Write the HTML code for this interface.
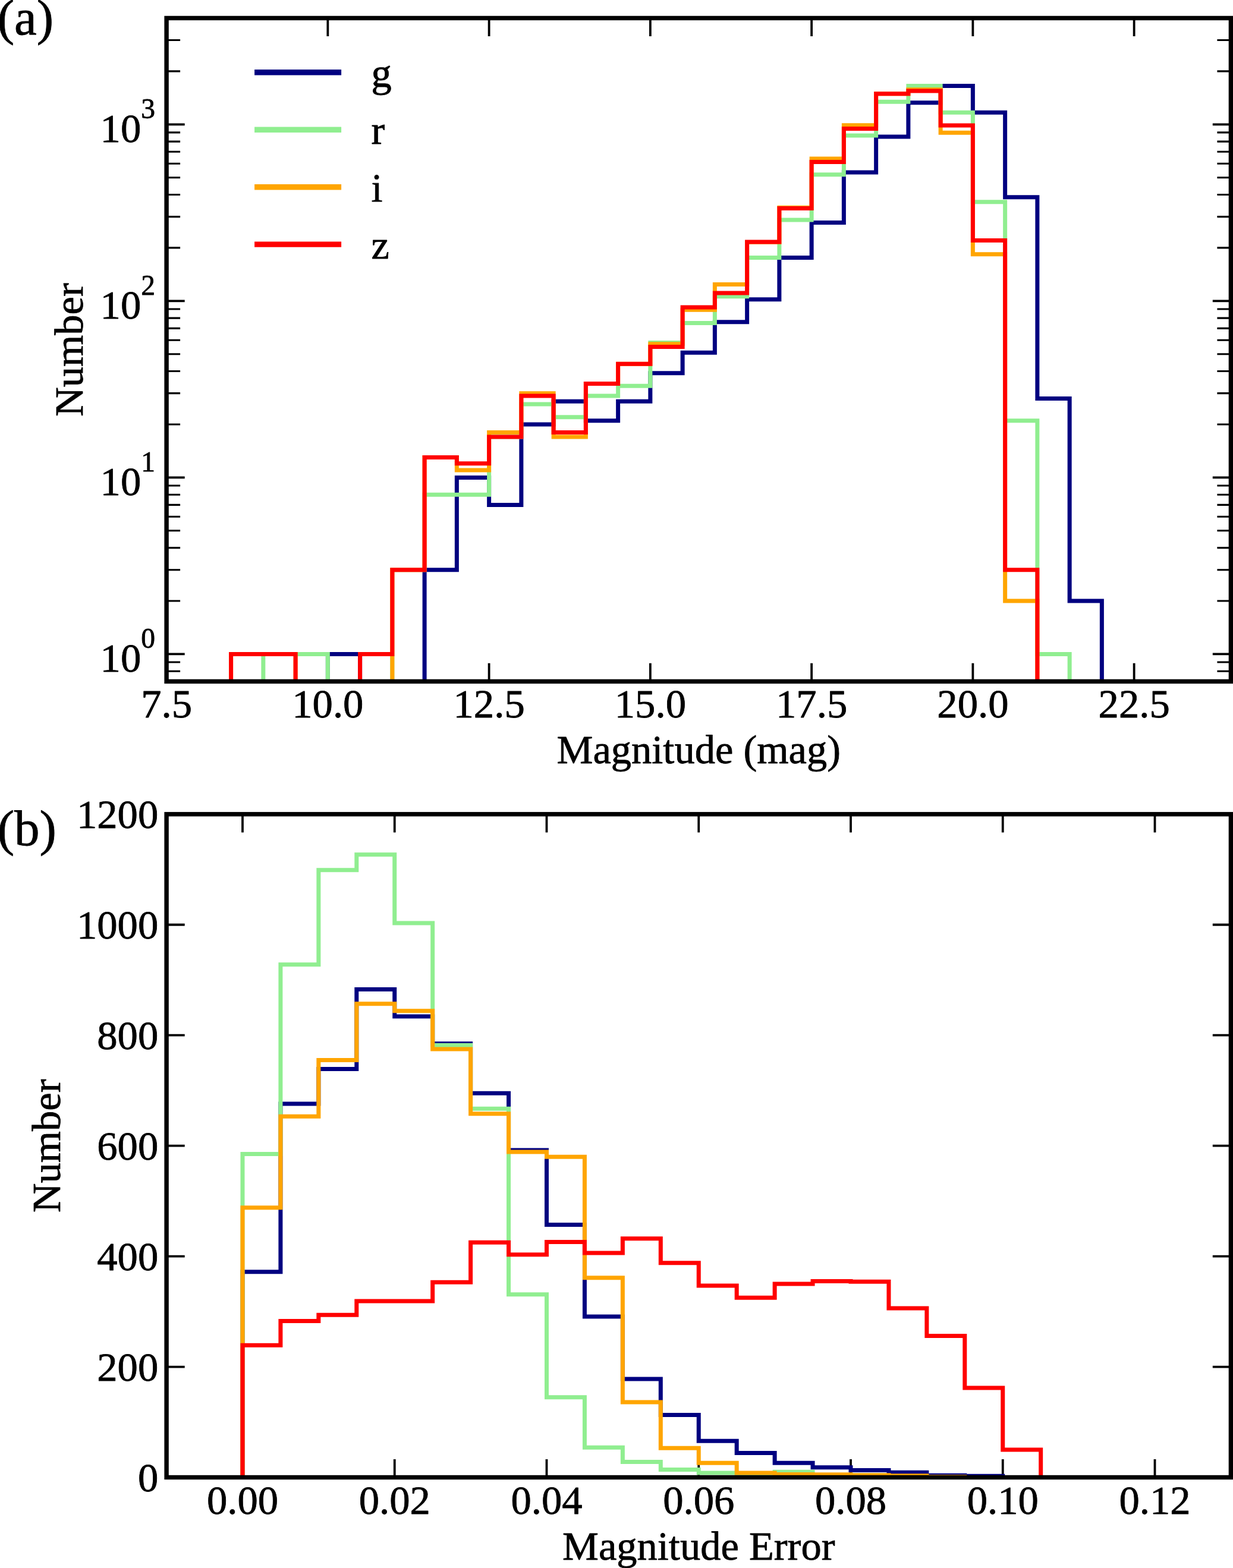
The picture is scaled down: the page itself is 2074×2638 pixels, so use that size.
<!DOCTYPE html>
<html lang="en"><head><meta charset="utf-8"><title>Magnitude and magnitude error histograms</title>
<style>html,body{margin:0;padding:0;background:#fff}svg{display:block}text{font-family:"Liberation Serif", serif;fill:#000;stroke:#000;stroke-width:0.8px;stroke-linejoin:round}</style></head><body>
<svg width="2074" height="2638" viewBox="0 0 2074 2638">
<rect width="2074" height="2638" fill="#fff"/>
<defs><clipPath id="ct"><rect x="280.1" y="30.45" width="1790.3" height="1116"/></clipPath><clipPath id="cb"><rect x="280.1" y="1369.8" width="1790.3" height="1115.7"/></clipPath></defs>
<g id="panel-a">
<path d="M280.1 1146.45V1115.85M280.1 30.45V61.05M551.36 1146.45V1115.85M551.36 30.45V61.05M822.62 1146.45V1115.85M822.62 30.45V61.05M1093.87 1146.45V1115.85M1093.87 30.45V61.05M1365.13 1146.45V1115.85M1365.13 30.45V61.05M1636.39 1146.45V1115.85M1636.39 30.45V61.05M1907.65 1146.45V1115.85M1907.65 30.45V61.05M280.1 1100.44H310.7M2070.4 1100.44H2039.8M280.1 803.39H310.7M2070.4 803.39H2039.8M280.1 506.34H310.7M2070.4 506.34H2039.8M280.1 209.29H310.7M2070.4 209.29H2039.8" stroke="#000" stroke-width="3.8" fill="none"/>
<path d="M280.1 1146.45H303.1M2070.4 1146.45H2047.4M280.1 1129.22H303.1M2070.4 1129.22H2047.4M280.1 1114.03H303.1M2070.4 1114.03H2047.4M280.1 1011.02H303.1M2070.4 1011.02H2047.4M280.1 958.71H303.1M2070.4 958.71H2047.4M280.1 921.6H303.1M2070.4 921.6H2047.4M280.1 892.81H303.1M2070.4 892.81H2047.4M280.1 869.29H303.1M2070.4 869.29H2047.4M280.1 849.4H303.1M2070.4 849.4H2047.4M280.1 832.18H303.1M2070.4 832.18H2047.4M280.1 816.98H303.1M2070.4 816.98H2047.4M280.1 713.97H303.1M2070.4 713.97H2047.4M280.1 661.66H303.1M2070.4 661.66H2047.4M280.1 624.55H303.1M2070.4 624.55H2047.4M280.1 595.76H303.1M2070.4 595.76H2047.4M280.1 572.24H303.1M2070.4 572.24H2047.4M280.1 552.35H303.1M2070.4 552.35H2047.4M280.1 535.13H303.1M2070.4 535.13H2047.4M280.1 519.93H303.1M2070.4 519.93H2047.4M280.1 416.92H303.1M2070.4 416.92H2047.4M280.1 364.61H303.1M2070.4 364.61H2047.4M280.1 327.5H303.1M2070.4 327.5H2047.4M280.1 298.71H303.1M2070.4 298.71H2047.4M280.1 275.19H303.1M2070.4 275.19H2047.4M280.1 255.3H303.1M2070.4 255.3H2047.4M280.1 238.08H303.1M2070.4 238.08H2047.4M280.1 222.88H303.1M2070.4 222.88H2047.4M280.1 119.87H303.1M2070.4 119.87H2047.4M280.1 67.56H303.1M2070.4 67.56H2047.4" stroke="#000" stroke-width="3.1" fill="none"/>
<path d="M388.6 1186.45H442.85H497.11H551.36V1100.44H605.61V1186.45H659.86H714.11V958.71H768.36V803.39H822.62V849.4H876.87V713.97H931.12V675.25H985.37V707.67H1039.62V675.25H1093.87V627.81H1148.12V593.21H1202.38V541.74H1256.63V503.78H1310.88V433.41H1365.13V374.44H1419.38V289.98H1473.63V230.11H1527.88V172.79H1582.14V144.61H1636.39V189.26H1690.64V331.76H1744.89V670.56H1799.14V1011.02H1853.39V1186.45" stroke="#000080" stroke-width="7" fill="none" stroke-linejoin="miter" stroke-miterlimit="10" clip-path="url(#ct)"/>
<path d="M388.6 1186.45H442.85V1100.44H497.11H551.36V1186.45H605.61H659.86V958.71H714.11V832.18H768.36H822.62V734.93H876.87V680.12H931.12V701.67H985.37V666.03H1039.62V649.36H1093.87V576.61H1148.12V543.45H1202.38V498.82H1256.63V433.41H1310.88V369.88H1365.13V293.65H1419.38V228H1473.63V171.34H1527.88V144.61H1582.14V189.26H1636.39V339.67H1690.64V707.67H1744.89V1100.44H1799.14V1186.45H1853.39" stroke="#90ee90" stroke-width="7" fill="none" stroke-linejoin="miter" stroke-miterlimit="10" clip-path="url(#ct)"/>
<path d="M388.6 1186.45V1100.44H442.85H497.11V1186.45H551.36H605.61H659.86V958.71H714.11V769.54H768.36V791.09H822.62V727.56H876.87V661.66H931.12V734.93H985.37V645.51H1039.62V612.25H1093.87V578.86H1148.12V521.37H1202.38V478.59H1256.63V407.59H1310.88V349.23H1365.13V267.07H1419.38V210.72H1473.63V157.67H1527.88V150.69H1582.14V223.31H1636.39V427.68H1690.64V1011.02H1744.89V1186.45H1799.14H1853.39" stroke="#ffa500" stroke-width="7" fill="none" stroke-linejoin="miter" stroke-miterlimit="10" clip-path="url(#ct)"/>
<path d="M388.6 1186.45V1100.44H442.85H497.11V1186.45H551.36H605.61V1100.44H659.86V958.71H714.11V769.54H768.36V779.87H822.62V734.93H876.87V666.03H931.12V727.56H985.37V645.51H1039.62V612.25H1093.87V583.46H1148.12V517.1H1202.38V492.88H1256.63V406.99H1310.88V350.38H1365.13V272.43H1419.38V216.59H1473.63V157.67H1527.88V153.09H1582.14V211.11H1636.39V404.62H1690.64V958.71H1744.89V1186.45H1799.14H1853.39" stroke="#ff0000" stroke-width="7" fill="none" stroke-linejoin="miter" stroke-miterlimit="10" clip-path="url(#ct)"/>
<rect x="280.1" y="30.45" width="1790.3" height="1116" fill="none" stroke="#000" stroke-width="7.4"/>
<text x="280.1" y="1207.4" font-size="68.7" text-anchor="middle">7.5</text>
<text x="551.36" y="1207.4" font-size="68.7" text-anchor="middle">10.0</text>
<text x="822.62" y="1207.4" font-size="68.7" text-anchor="middle">12.5</text>
<text x="1093.87" y="1207.4" font-size="68.7" text-anchor="middle">15.0</text>
<text x="1365.13" y="1207.4" font-size="68.7" text-anchor="middle">17.5</text>
<text x="1636.39" y="1207.4" font-size="68.7" text-anchor="middle">20.0</text>
<text x="1907.65" y="1207.4" font-size="68.7" text-anchor="middle">22.5</text>
<text x="168.6" y="1130.44" font-size="68.7">10<tspan x="237.2" font-size="47.5" dy="-40.3">0</tspan></text>
<text x="168.6" y="833.39" font-size="68.7">10<tspan x="237.2" font-size="47.5" dy="-40.3">1</tspan></text>
<text x="168.6" y="536.34" font-size="68.7">10<tspan x="237.2" font-size="47.5" dy="-40.3">2</tspan></text>
<text x="168.6" y="239.29" font-size="68.7">10<tspan x="237.2" font-size="47.5" dy="-40.3">3</tspan></text>
<text transform="translate(139.2 588.5) rotate(-90)" font-size="68.5" text-anchor="middle">Number</text>
<text x="1175.25" y="1284.4" font-size="68.5" text-anchor="middle">Magnitude (mag)</text>
<text x="-4.3" y="58" font-size="85">(a)</text>
<path d="M428.1 121.8H574.1" stroke="#000080" stroke-width="9.4" fill="none"/>
<text x="624.5" y="146" font-size="68.5">g</text>
<path d="M428.1 218.2H574.1" stroke="#90ee90" stroke-width="9.4" fill="none"/>
<text x="624.5" y="242.4" font-size="68.5">r</text>
<path d="M428.1 314.7H574.1" stroke="#ffa500" stroke-width="9.4" fill="none"/>
<text x="624.5" y="338.9" font-size="68.5">i</text>
<path d="M428.1 411.1H574.1" stroke="#ff0000" stroke-width="9.4" fill="none"/>
<text x="624.5" y="435.3" font-size="68.5">z</text>
</g>
<g id="panel-b">
<path d="M407.98 2485.5V2454.9M407.98 1369.8V1400.4M663.74 2485.5V2454.9M663.74 1369.8V1400.4M919.49 2485.5V2454.9M919.49 1369.8V1400.4M1175.25 2485.5V2454.9M1175.25 1369.8V1400.4M1431.01 2485.5V2454.9M1431.01 1369.8V1400.4M1686.76 2485.5V2454.9M1686.76 1369.8V1400.4M1942.52 2485.5V2454.9M1942.52 1369.8V1400.4M280.1 2485.5H310.7M2070.4 2485.5H2039.8M280.1 2299.55H310.7M2070.4 2299.55H2039.8M280.1 2113.6H310.7M2070.4 2113.6H2039.8M280.1 1927.65H310.7M2070.4 1927.65H2039.8M280.1 1741.7H310.7M2070.4 1741.7H2039.8M280.1 1555.75H310.7M2070.4 1555.75H2039.8M280.1 1369.8H310.7M2070.4 1369.8H2039.8" stroke="#000" stroke-width="3.8" fill="none"/>
<path d="M407.98 2485.5V2139.63H471.92V1856.99H535.86V1798.41H599.8V1664.53H663.74V1710.09H727.68V1755.65H791.61V1839.32H855.55V1935.09H919.49V2060.6H983.43V2214.94H1047.37V2320H1111.31V2380.44H1175.25V2424.14H1239.19V2444.59H1303.13V2461.33H1367.07V2468.76H1431.01V2473.41H1494.95V2477.13H1558.89V2482.34H1622.82V2483.27H1686.76V2485.5H1750.7" stroke="#000080" stroke-width="7" fill="none" stroke-linejoin="miter" stroke-miterlimit="10" clip-path="url(#cb)"/>
<path d="M407.98 2485.5V1941.6H471.92V1622.69H535.86V1463.7H599.8V1437.67H663.74V1552.96H727.68V1758.44H791.61V1865.36H855.55V2177.75H919.49V2350.69H983.43V2435.29H1047.37V2459.47H1111.31V2472.48H1175.25V2478.06H1239.19V2478.99H1303.13V2476.2H1367.07V2481.78H1431.01V2483.64H1494.95V2484.57H1558.89V2485.5H1622.82H1686.76H1750.7" stroke="#90ee90" stroke-width="7" fill="none" stroke-linejoin="miter" stroke-miterlimit="10" clip-path="url(#cb)"/>
<path d="M407.98 2485.5V2031.78H471.92V1878.37H535.86V1783.54H599.8V1688.7H663.74V1700.79H727.68V1764.94H791.61V1873.72H855.55V1937.88H919.49V1946.24H983.43V2149.86H1047.37V2359.05H1111.31V2436.22H1175.25V2461.33H1239.19V2478.06H1303.13V2480.39H1367.07V2480.85H1431.01V2481.78H1494.95V2482.71H1558.89V2484.57H1622.82V2485.5H1686.76H1750.7" stroke="#ffa500" stroke-width="7" fill="none" stroke-linejoin="miter" stroke-miterlimit="10" clip-path="url(#cb)"/>
<path d="M407.98 2485.5V2263.29H471.92V2222.38H535.86V2212.15H599.8V2188.91H663.74H727.68V2157.3H791.61V2090.36H855.55V2110.81H919.49V2089.43H983.43V2108.02H1047.37V2083.85H1111.31V2124.76H1175.25V2162.88H1239.19V2183.33H1303.13V2160.09H1367.07V2155.44H1431.01V2156.37H1494.95V2201H1558.89V2247.48H1622.82V2334.88H1686.76V2439.01H1750.7V2485.5" stroke="#ff0000" stroke-width="7" fill="none" stroke-linejoin="miter" stroke-miterlimit="10" clip-path="url(#cb)"/>
<rect x="280.1" y="1369.8" width="1790.3" height="1115.7" fill="none" stroke="#000" stroke-width="7.4"/>
<text x="407.98" y="2546.6" font-size="68.7" text-anchor="middle">0.00</text>
<text x="663.74" y="2546.6" font-size="68.7" text-anchor="middle">0.02</text>
<text x="919.49" y="2546.6" font-size="68.7" text-anchor="middle">0.04</text>
<text x="1175.25" y="2546.6" font-size="68.7" text-anchor="middle">0.06</text>
<text x="1431.01" y="2546.6" font-size="68.7" text-anchor="middle">0.08</text>
<text x="1686.76" y="2546.6" font-size="68.7" text-anchor="middle">0.10</text>
<text x="1942.52" y="2546.6" font-size="68.7" text-anchor="middle">0.12</text>
<text x="266.3" y="2508.9" font-size="68.7" text-anchor="end">0</text>
<text x="266.3" y="2322.95" font-size="68.7" text-anchor="end">200</text>
<text x="266.3" y="2137" font-size="68.7" text-anchor="end">400</text>
<text x="266.3" y="1951.05" font-size="68.7" text-anchor="end">600</text>
<text x="266.3" y="1765.1" font-size="68.7" text-anchor="end">800</text>
<text x="266.3" y="1579.15" font-size="68.7" text-anchor="end">1000</text>
<text x="266.3" y="1393.2" font-size="68.7" text-anchor="end">1200</text>
<text transform="translate(101 1927.65) rotate(-90)" font-size="68.5" text-anchor="middle">Number</text>
<text x="1175.25" y="2623.6" font-size="68.5" text-anchor="middle">Magnitude Error</text>
<text x="-4.3" y="1422.2" font-size="85">(b)</text>
</g>
</svg></body></html>
